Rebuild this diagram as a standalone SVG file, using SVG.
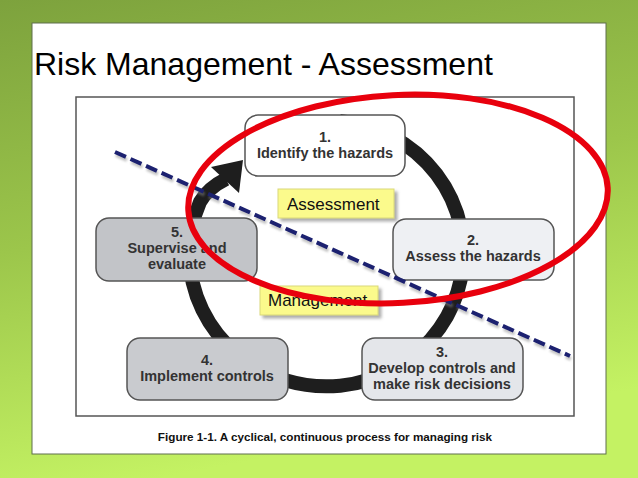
<svg xmlns="http://www.w3.org/2000/svg" width="638" height="478" viewBox="0 0 638 478">
  <defs>
    <linearGradient id="bg" x1="0" y1="0" x2="0.25" y2="1">
      <stop offset="0" stop-color="#7da23d"/>
      <stop offset="0.5" stop-color="#9cc64b"/>
      <stop offset="1" stop-color="#c4f263"/>
    </linearGradient>
    <filter id="sh" x="-10%" y="-20%" width="130%" height="160%">
      <feDropShadow dx="3" dy="3" stdDeviation="1.5" flood-color="#777" flood-opacity="0.6"/>
    </filter>
    <filter id="blur" x="-5%" y="-5%" width="110%" height="110%">
      <feGaussianBlur stdDeviation="1"/>
    </filter>
  </defs>
  <style>
    .node rect { stroke: #555; stroke-width: 1.5; }
    .node text { font-family: "Liberation Sans", Arial, sans-serif; font-weight: bold; font-size: 14.5px; fill: #333; text-anchor: middle; }
    .lbl rect { fill: #fbfa8c; stroke: #d9d87a; stroke-width: 1; }
    .lbl text { font-family: "Liberation Sans", Arial, sans-serif; font-size: 17px; fill: #111; }
    .ring { fill: none; stroke: #1e1e1e; stroke-width: 14; }
  </style>
  <rect x="0" y="0" width="638" height="478" fill="url(#bg)"/>
  <rect x="32" y="23" width="574" height="431" fill="#ffffff" stroke="#5f6f4c" stroke-width="1"/>
  <text x="34" y="75" font-family="Liberation Sans, Arial, sans-serif" font-size="32" fill="#000">Risk Management - Assessment</text>
  <rect x="76" y="97" width="498" height="319" fill="#ffffff" stroke="#555" stroke-width="1.5"/>
  <text x="325" y="441" font-family="Liberation Sans, Arial, sans-serif" font-size="11.7" font-weight="bold" fill="#111" text-anchor="middle">Figure 1-1. A cyclical, continuous process for managing risk</text>

  <g id="connectors">
    <path class="ring" d="M 340 121 A 137 133 0 1 1 200 202 Q 208 188 226 179"/>
    <polygon points="243,160 211,167 239,193" fill="#1e1e1e"/>
  </g>

  <g id="node1" class="node">
    <rect x="245" y="115" width="160" height="61" rx="13" fill="#ffffff"/>
    <text x="325" y="142">1.</text>
    <text x="325" y="158">Identify the hazards</text>
  </g>
  <g id="node2" class="node">
    <rect x="393" y="219" width="161" height="61" rx="13" fill="#eef0f3"/>
    <text x="473" y="245">2.</text>
    <text x="473" y="261">Assess the hazards</text>
  </g>
  <g id="node3" class="node">
    <rect x="362" y="338" width="161" height="62" rx="13" fill="#e4e6ea"/>
    <text x="442" y="357">3.</text>
    <text x="442" y="373">Develop controls and</text>
    <text x="442" y="389">make risk decisions</text>
  </g>
  <g id="node4" class="node">
    <rect x="127" y="338" width="161" height="62" rx="13" fill="#c9cbcf"/>
    <text x="207" y="365">4.</text>
    <text x="207" y="381">Implement controls</text>
  </g>
  <g id="node5" class="node">
    <rect x="96" y="218" width="161" height="63" rx="13" fill="#c2c4c8"/>
    <text x="177" y="237">5.</text>
    <text x="177" y="253">Supervise and</text>
    <text x="177" y="269">evaluate</text>
  </g>

  <g id="label-assessment" class="lbl">
    <rect x="278" y="189" width="116" height="29" filter="url(#sh)"/>
    <text x="287" y="210">Assessment</text>
  </g>
  <g id="label-management" class="lbl">
    <rect x="260" y="286" width="118" height="29" filter="url(#sh)"/>
    <text x="268" y="306">Management</text>
  </g>

  <g id="divider">
    <line x1="116" y1="155" x2="571" y2="359" stroke="#8a8a8a" stroke-width="4" stroke-dasharray="12 5" opacity="0.5" filter="url(#blur)"/>
    <line x1="115" y1="152" x2="570" y2="356" stroke="#1c2170" stroke-width="4" stroke-dasharray="12 5"/>
  </g>

  <g id="highlight">
    <ellipse cx="398" cy="199" rx="210" ry="104" transform="rotate(-3 398 199)" fill="none" stroke="#e8000d" stroke-width="6"/>
  </g>
</svg>
